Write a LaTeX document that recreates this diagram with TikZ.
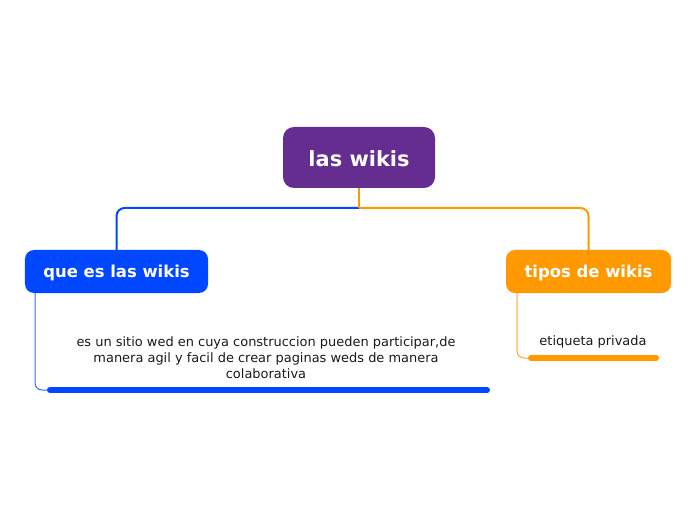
\documentclass[tikz,border=0pt]{standalone}
\usepackage{fontspec}
\setmainfont{DejaVu Sans}
\definecolor{cpurple}{HTML}{662D91}
\definecolor{cblue}{HTML}{0047FF}
\definecolor{corange}{HTML}{FF9900}
\newcommand{\lowerlabel}[1]{\raisebox{-1.5bp}[\height][\depth]{#1}}
\begin{document}
\begin{tikzpicture}[x=1bp,y=-1bp,
  topic/.style={rounded corners=9bp, text=white, font=\bfseries\fontsize{16.5}{20}\selectfont, inner sep=0pt, minimum height=43bp},
  conn/.style={line width=2bp, rounded corners=8bp},
  thin/.style={line width=1bp, rounded corners=7bp},
  bar/.style={line width=6bp, line cap=round},
  desc/.style={font=\fontsize{13}{16}\selectfont, align=center, inner sep=0pt, text=black!90}
]
\useasboundingbox (0,0) rectangle (696,520);
\node[topic, fill=cpurple, minimum width=152bp, minimum height=61bp, rounded corners=11bp, font=\bfseries\fontsize{21}{25}\selectfont] (root) at (359,157.5) {\lowerlabel{las wikis}};
\node[topic, fill=cblue, minimum width=183bp] (left) at (116.5,271.5) {\lowerlabel{que es las wikis}};
\node[topic, fill=corange, minimum width=165bp] (right) at (588.5,271.5) {\lowerlabel{tipos de wikis}};
\coordinate (j) at (359,208);
\draw[conn, cblue] (j) -| (left.north);
\draw[conn, corange] (j) -| (right.north);
\draw[line width=2bp, corange] (root.south) -- (j);
% left description
\node[desc] (ldesc) at (266,358) {es un sitio wed en cuya construccion pueden participar,de\\manera agil y facil de crear paginas weds de manera\\colaborativa};
\coordinate (lb0) at (47,390);
\coordinate (lb1) at (50,390);
\coordinate (lb2) at (487,390);
\coordinate (lt) at (35,293);
\draw[bar, cblue] (lb1) -- (lb2);
\draw[thin, cblue!80] (lt) |- (lb0);
% right description
\node[desc] (rdesc) at (593,342) {etiqueta privada};
\coordinate (rb0) at (528,358);
\coordinate (rb1) at (531,358);
\coordinate (rb2) at (656,358);
\coordinate (rt) at (517,293);
\draw[bar, corange] (rb1) -- (rb2);
\draw[thin, corange!85] (rt) |- (rb0);
\end{tikzpicture}
\end{document}
